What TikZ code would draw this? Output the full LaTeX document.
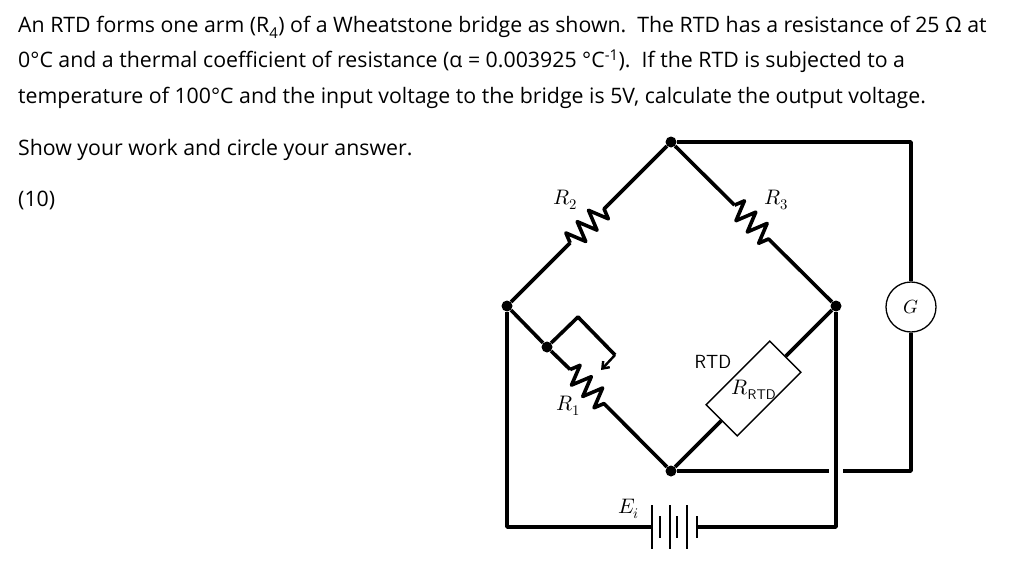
\documentclass[tikz,border=0pt]{standalone}
\usepackage{fontspec}
\setmainfont{Open Sans}
\usepackage{unicode-math}
\setmathfont{Latin Modern Math}
\usetikzlibrary{decorations.pathmorphing,calc,arrows.meta}
\begin{document}
\begin{tikzpicture}[x=1pt,y=-1pt,
  wire/.style={line width=3.6pt,line join=round},
  res/.style={wire,decorate,decoration={zigzag,segment length=16pt,amplitude=10pt}},
  dot/.style={circle,fill,inner sep=0pt,minimum size=11pt},
  txt/.style={anchor=base west,inner sep=0pt,font=\fontsize{21.3}{25}\selectfont},
  lab/.style={inner sep=0pt,font=\fontsize{21}{22}\selectfont}]
\useasboundingbox (0,0) rectangle (1024,575);
\node[txt] (t1) at (18,33) {An RTD forms one arm (R\textsubscript{4}) of a Wheatstone bridge as shown.\ \ The RTD has a resistance of 25 Ω at};
\node[txt] (t2) at (18,68) {0°C and a thermal coefficient of resistance (α = 0.003925 °C\textsuperscript{-1}).\ \ If the RTD is subjected to a};
\node[txt] (t3) at (18,104) {temperature of 100°C and the input voltage to the bridge is 5V, calculate the output voltage.};
\node[txt] (t4) at (18,155) {Show your work and circle your answer.};
\node[txt] (t5) at (18,206) {(10)};
% nodes
\node[dot] (T) at (671,142) {};
\node[dot] (L) at (507,306) {};
\node[dot] (R) at (836,306) {};
\node[dot] (B) at (671,471) {};
\node[dot] (P) at (547,347) {};
\node[circle,draw,line width=1.3pt,minimum size=50pt,inner sep=0pt,font=\fontsize{19}{20}\selectfont] (G) at (911,307) {$G$};
% R2
\coordinate (a2) at ($(L)!0.385!(T)$); \coordinate (b2) at ($(L)!0.615!(T)$);
\draw[wire] (L) -- (a2); \draw[res] (a2) -- (b2); \draw[wire] (b2) -- (T);
% R3
\coordinate (a3) at ($(T)!0.385!(R)$); \coordinate (b3) at ($(T)!0.615!(R)$);
\draw[wire] (T) -- (a3); \draw[res] (a3) -- (b3); \draw[wire] (b3) -- (R);
% R1
\coordinate (a1) at ($(L)!0.385!(B)$); \coordinate (b1) at ($(L)!0.615!(B)$);
\draw[wire] (L) -- (P) -- (a1); \draw[res] (a1) -- (b1); \draw[wire] (b1) -- (B);
\coordinate (k1) at (578,317); \coordinate (k2) at (615,355); \coordinate (k3) at (601,370);
\draw[wire] (P) -- (k1) -- (k2);
\draw[line width=2.4pt,-{Straight Barb[length=6pt,width=9pt]}] (k2) -- (k3);
% RTD
\node[draw,line width=1.3pt,rotate=45,minimum width=90pt,minimum height=44pt,inner sep=0pt] (RTD) at ($(B)!0.5!(R)$) {};
\draw[wire] (B) -- (RTD.west); \draw[wire] (RTD.east) -- (R);
\node[lab,font=\fontsize{19}{20}\sffamily] (rl) at (713,362) {RTD};
\node[lab] (rr) at (754,390) {$R_{\textsf{\fontsize{14}{16}\selectfont RTD}}$};
% labels
\node[lab] (l2) at (565,200) {$R_2$};
\node[lab] (l3) at (776,200) {$R_3$};
\node[lab] (l1) at (568,406) {$R_1$};
\node[lab] (le) at (629,509) {$E_i$};
% galvanometer loop
\coordinate (gt) at (911,142); \coordinate (gb) at (911,471);
\coordinate (x1) at (829,471); \coordinate (x2) at (843,471);
\draw[wire] (T) -- (gt) -- (G.north);
\draw[wire] (G.south) -- (gb) -- (x2);
\draw[wire] (B) -- (x1);
% battery loop
\coordinate (bl) at (507,527); \coordinate (br) at (836,527);
\coordinate (p1) at (652,527); \coordinate (p6) at (697,527);
\draw[wire] (L) -- (bl) -- (p1);
\draw[wire] (R) -- (br) -- (p6);
\foreach \x/\h in {652/22,660/11,670/22,677/11,687/22,697/11}
  \draw[line width=2.4pt] (\x,527-\h) -- (\x,527+\h);
\end{tikzpicture}
\end{document}
